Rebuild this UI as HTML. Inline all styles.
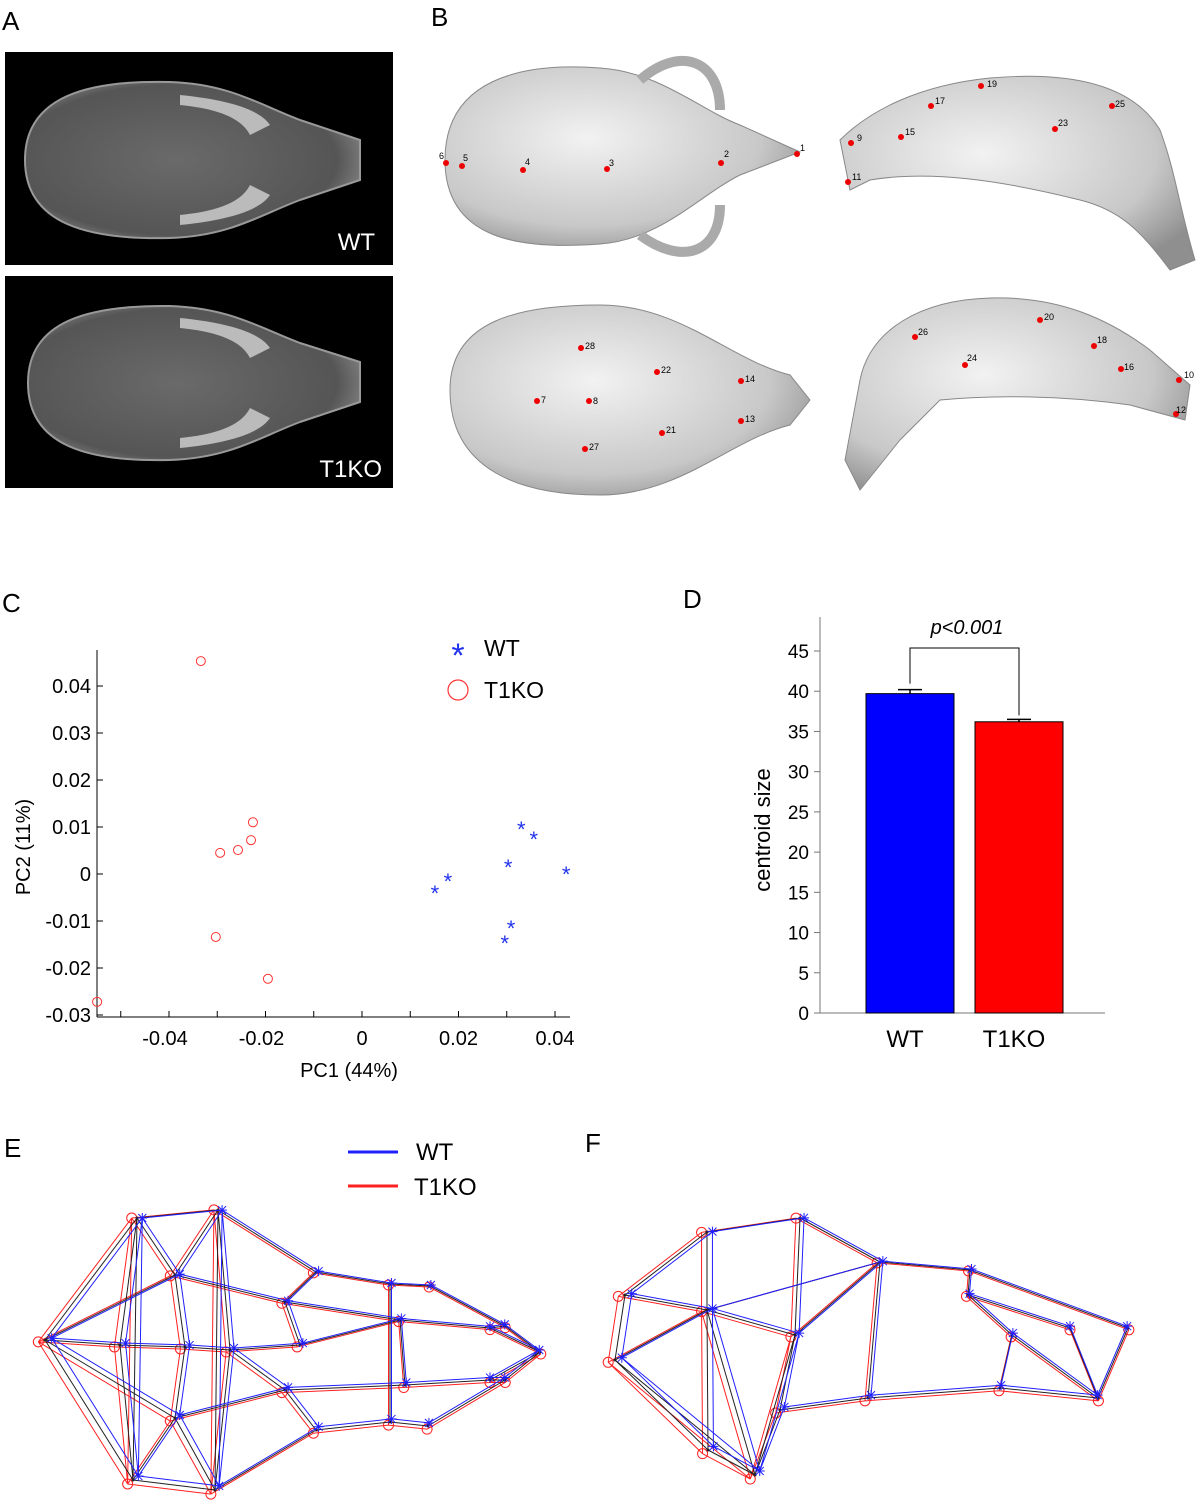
<!DOCTYPE html>
<html><head><meta charset="utf-8">
<style>
body{margin:0;background:#fff;}
svg{display:block;font-family:"Liberation Sans",Arial,sans-serif;}
</style></head>
<body>
<svg id="fig" width="1200" height="1506" viewBox="0 0 1200 1506" xmlns="http://www.w3.org/2000/svg">
<defs>
<radialGradient id="skullA" cx="45%" cy="50%" r="60%"><stop offset="0" stop-color="#6a6a6a"/><stop offset="0.8" stop-color="#555"/><stop offset="1" stop-color="#8a8a8a"/></radialGradient>
<radialGradient id="skullB" cx="40%" cy="40%" r="70%"><stop offset="0" stop-color="#f2f2f2"/><stop offset="0.7" stop-color="#c8c8c8"/><stop offset="1" stop-color="#8f8f8f"/></radialGradient>
</defs>
<text x="2" y="30" font-size="26">A</text>
<text x="431" y="26" font-size="26">B</text>
<text x="2" y="612" font-size="26">C</text>
<text x="683" y="608" font-size="26">D</text>
<text x="4" y="1157" font-size="26">E</text>
<text x="585" y="1152" font-size="26">F</text>

<g>
<rect x="5" y="52" width="388" height="213" fill="#000"/>
<path d="M25,160 C25,95 90,80 170,82 C230,84 260,105 300,120 L360,140 L360,180 L300,200 C260,215 230,236 170,238 C90,240 25,225 25,160Z" fill="url(#skullA)" stroke="#999" stroke-width="2"/>
<path d="M180,95 C230,100 260,110 270,125 L250,135 C240,115 210,108 180,105Z M180,225 C230,220 260,210 270,195 L250,185 C240,205 210,212 180,215Z" fill="#bbb"/>
<text x="375" y="250" font-size="24" fill="#fff" text-anchor="end">WT</text>
</g>
<g>
<rect x="5" y="276" width="388" height="212" fill="#000"/>
<path d="M28,383 C28,320 90,305 170,306 C230,308 260,328 300,343 L360,362 L360,402 L300,422 C260,437 230,458 170,460 C90,462 28,447 28,383Z" fill="url(#skullA)" stroke="#999" stroke-width="2"/>
<path d="M180,318 C230,323 260,333 270,348 L250,358 C240,338 210,331 180,328Z M180,448 C230,443 260,433 270,418 L250,408 C240,428 210,435 180,438Z" fill="#bbb"/>
<text x="382" y="477" font-size="24" fill="#fff" text-anchor="end">T1KO</text>
</g>

<g>
<path d="M445,160 C445,80 520,62 600,68 C660,72 700,110 740,125 L800,152 L740,175 C700,195 660,240 600,244 C520,250 445,240 445,160Z" fill="url(#skullB)" stroke="#888"/>
<path d="M640,80 C680,45 720,60 720,110 M640,235 C680,265 720,255 720,205" stroke="#aaa" stroke-width="10" fill="none"/>
</g>
<g>
<path d="M840,140 C870,110 920,85 990,78 C1060,72 1130,80 1160,130 C1175,170 1180,210 1195,260 L1170,270 C1140,230 1120,210 1080,200 C1000,180 930,170 870,180 L850,190Z" fill="url(#skullB)" stroke="#888"/>
</g>
<g>
<path d="M450,390 C450,320 520,305 600,305 C680,305 730,360 790,375 L810,400 L790,425 C730,440 680,495 600,495 C520,495 450,470 450,390Z" fill="url(#skullB)" stroke="#888"/>
</g>
<g>
<path d="M860,380 C870,330 920,300 990,298 C1060,296 1110,320 1150,350 L1190,385 L1185,420 L1130,405 C1060,395 990,395 940,400 L900,440 L860,490 L845,460Z" fill="url(#skullB)" stroke="#888"/>
</g>
<g fill="#e00" font-size="9">
<circle cx="797" cy="154" r="3"/><text x="800" y="151" fill="#000">1</text>
<circle cx="721" cy="163" r="3"/><text x="724" y="157" fill="#000">2</text>
<circle cx="607" cy="169" r="3"/><text x="609" y="166" fill="#000">3</text>
<circle cx="523" cy="170" r="3"/><text x="525" y="165" fill="#000">4</text>
<circle cx="462" cy="166" r="3"/><text x="463" y="161" fill="#000">5</text>
<circle cx="446" cy="163" r="3"/><text x="439" y="159" fill="#000">6</text>
<circle cx="537" cy="401" r="3"/><text x="541" y="403" fill="#000">7</text>
<circle cx="589" cy="401" r="3"/><text x="593" y="404" fill="#000">8</text>
<circle cx="851" cy="143" r="3"/><text x="857" y="141" fill="#000">9</text>
<circle cx="1179" cy="380" r="3"/><text x="1184" y="378" fill="#000">10</text>
<circle cx="848" cy="182" r="3"/><text x="852" y="180" fill="#000">11</text>
<circle cx="1176" cy="414" r="3"/><text x="1176" y="413" fill="#000">12</text>
<circle cx="741" cy="421" r="3"/><text x="745" y="422" fill="#000">13</text>
<circle cx="741" cy="381" r="3"/><text x="745" y="382" fill="#000">14</text>
<circle cx="901" cy="137" r="3"/><text x="905" y="135" fill="#000">15</text>
<circle cx="1121" cy="369" r="3"/><text x="1124" y="370" fill="#000">16</text>
<circle cx="931" cy="106" r="3"/><text x="935" y="104" fill="#000">17</text>
<circle cx="1094" cy="346" r="3"/><text x="1097" y="343" fill="#000">18</text>
<circle cx="981" cy="86" r="3"/><text x="987" y="87" fill="#000">19</text>
<circle cx="1040" cy="320" r="3"/><text x="1044" y="320" fill="#000">20</text>
<circle cx="662" cy="433" r="3"/><text x="666" y="433" fill="#000">21</text>
<circle cx="657" cy="372" r="3"/><text x="661" y="373" fill="#000">22</text>
<circle cx="1055" cy="129" r="3"/><text x="1058" y="126" fill="#000">23</text>
<circle cx="965" cy="365" r="3"/><text x="967" y="361" fill="#000">24</text>
<circle cx="1112" cy="106" r="3"/><text x="1115" y="107" fill="#000">25</text>
<circle cx="915" cy="337" r="3"/><text x="918" y="335" fill="#000">26</text>
<circle cx="585" cy="449" r="3"/><text x="589" y="450" fill="#000">27</text>
<circle cx="581" cy="348" r="3"/><text x="585" y="349" fill="#000">28</text>
</g>

<g id="panelC"></g>
<g id="panelD"></g>
<g id="panelE"></g>
<g id="panelF"></g>
</svg>
<script>
const NS="http://www.w3.org/2000/svg";
function mk(parent,tag,attrs,text){const e=document.createElementNS(NS,tag);for(const k in attrs)e.setAttribute(k,attrs[k]);if(text!==undefined)e.textContent=text;parent.appendChild(e);return e;}

const cXTicks=[-0.04,-0.02,0,0.02,0.04];
const cXTickLabels=["-0.04","-0.02","0","0.02","0.04"];
const cYTicks=[0.04,0.03,0.02,0.01,0,-0.01,-0.02,-0.03];
const cYTickLabels=["0.04","0.03","0.02","0.01","0","-0.01","-0.02","-0.03"];
const wtPC1=[0.033,0.0356,0.0423,0.0303,0.0178,0.0151,0.0309,0.0296];
const wtPC2=[0.010,0.0079,0.0004,0.0019,-0.0011,-0.0036,-0.0111,-0.0143];
const koPC1=[-0.0334,-0.0226,-0.023,-0.0257,-0.0294,-0.0303,-0.0195,-0.0549];
const koPC2=[0.0453,0.011,0.0072,0.0051,0.0045,-0.0134,-0.0223,-0.0272];

const dCategories=["WT","T1KO"];
const dValues=[39.7,36.2];
const dErrors=[0.5,0.3];
const dTicks=[0,5,10,15,20,25,30,35,40,45];
const dColors=["#0000ff","#ff0000"];

(function(){
const g=document.getElementById('panelC');
const xs=v=>362+v*4825, ys=v=>874-v*4700;
let a=mk(g,'line',{x1:97,y1:650,x2:97,y2:1017,stroke:'#000','stroke-width':1});

a=mk(g,'line',{x1:97,y1:1017,x2:570,y2:1017,stroke:'#000','stroke-width':1});

cXTicks.forEach((v,i)=>{mk(g,'line',{x1:xs(v),y1:1017,x2:xs(v),y2:1011,stroke:'#000'});
 const t=mk(g,'text',{x:xs(v)+(v<0?-4:0),y:1045,'font-size':20,'text-anchor':'middle'},cXTickLabels[i]);
 });
[-0.05,-0.03,-0.01,0.01,0.03].forEach(v=>mk(g,'line',{x1:xs(v),y1:1017,x2:xs(v),y2:1011,stroke:'#000'}));
cYTicks.forEach((v,i)=>{mk(g,'line',{x1:97,y1:ys(v),x2:103,y2:ys(v),stroke:'#000'});
 const t=mk(g,'text',{x:91,y:ys(v)+7,'font-size':20,'text-anchor':'end'},cYTickLabels[i]);
 });
let t=mk(g,'text',{x:349,y:1077,'font-size':20,'text-anchor':'middle'},'PC1 (44%)');

t=mk(g,'text',{x:0,y:0,'font-size':20,'text-anchor':'middle',transform:'translate(30,847) rotate(-90)'},'PC2 (11%)');

koPC1.forEach((v,i)=>{const c=mk(g,'circle',{cx:xs(v),cy:ys(koPC2[i]),r:4.5,fill:'none',stroke:'#f33','stroke-width':1});
 });
wtPC1.forEach((v,i)=>{const s=mk(g,'text',{x:xs(v),y:ys(wtPC2[i])+10,'font-size':22,fill:'#2233ee','text-anchor':'middle'},'*');
 });
let l=mk(g,'text',{x:458,y:667,'font-size':34,fill:'#2233ee','text-anchor':'middle'},'*');

l=mk(g,'text',{x:484,y:656,'font-size':23},'WT');

l=mk(g,'circle',{cx:458,cy:690,r:10,fill:'none',stroke:'#f33','stroke-width':1.2});

l=mk(g,'text',{x:484,y:698,'font-size':23},'T1KO');

})();

(function(){
const g=document.getElementById('panelD');
const ys=v=>1013-v*(362/45);
const bx=[866,975], bw=88;
let a=mk(g,'line',{x1:820,y1:617,x2:820,y2:1013,stroke:'#777'});

a=mk(g,'line',{x1:820,y1:1013,x2:1105,y2:1013,stroke:'#777'});

dTicks.forEach(v=>{mk(g,'line',{x1:820,y1:ys(v),x2:814,y2:ys(v),stroke:'#777'});
 const t=mk(g,'text',{x:809,y:ys(v)+7,'font-size':19,'text-anchor':'end'},String(v));
 });
dValues.forEach((v,i)=>{
 const r=mk(g,'rect',{x:bx[i],y:ys(v),width:bw,height:1013-ys(v),fill:dColors[i],stroke:'#000','stroke-width':1});
 
 const cx=bx[i]+bw/2;
 const e=mk(g,'path',{d:`M${cx},${ys(v+dErrors[i])}V${ys(v)} M${cx-12},${ys(v+dErrors[i])}H${cx+12}`,stroke:'#000','stroke-width':1.5,fill:'none'});
 
 const t=mk(g,'text',{x:cx-5,y:1047,'font-size':24,'text-anchor':'middle'},dCategories[i]);
 
});
const c0=bx[0]+bw/2,c1=bx[1]+bw/2;
let b=mk(g,'path',{d:`M${c0},${ys(dValues[0]+dErrors[0])-6}V648H${c1}V${ys(dValues[1]+dErrors[1])-4}`,stroke:'#000',fill:'none'});

let t=mk(g,'text',{x:967,y:634,'font-size':20,'font-style':'italic','text-anchor':'middle'},'p<0.001');

t=mk(g,'text',{x:0,y:0,'font-size':22,'text-anchor':'middle',transform:'translate(770,830) rotate(-90)'},'centroid size');

})();

const ePts=[[45,1340],[137,1218],[218,1210],[316,1272],[390,1284],[430,1286],[505,1326],[540,1352],[505,1380],[428,1426],[390,1422],[316,1430],[215,1490],[133,1480],[175,1275],[285,1302],[120,1345],[185,1347],[230,1350],[300,1345],[400,1320],[405,1385],[285,1390],[175,1418],[490,1328],[490,1380]];
const eEdges=[[0,1],[1,2],[2,3],[3,4],[4,5],[5,6],[6,7],[7,8],[8,9],[9,10],[10,11],[11,12],[12,13],[13,0],[0,16],[16,17],[17,18],[18,19],[19,20],[20,24],[24,7],[7,25],[25,21],[21,22],[22,18],[1,16],[1,14],[14,2],[2,18],[13,16],[13,23],[23,12],[12,18],[14,15],[15,19],[3,15],[15,20],[11,22],[22,23],[14,17],[17,23],[4,10],[20,21],[6,24],[8,25],[0,14],[0,23],[1,13],[2,12]];
const fPts=[[625,1295],[707,1232],[800,1218],[880,1262],[970,1270],[1070,1328],[1128,1328],[1098,1398],[1000,1388],[868,1398],[755,1475],[708,1450],[615,1360],[707,1310],[795,1335],[968,1295],[1012,1335],[780,1410]];
const fEdges=[[0,1],[1,2],[2,3],[3,4],[4,6],[6,7],[7,5],[5,15],[15,4],[15,16],[16,7],[7,8],[8,9],[9,17],[17,10],[10,11],[11,12],[12,0],[0,13],[13,12],[13,14],[14,3],[3,13],[13,10],[13,11],[14,10],[12,10],[9,3],[14,2],[13,1],[8,16],[17,14]];
function drawWire(gid,pts,edges,cx,cy){
 const g=document.getElementById(gid);
 const variants=[{c:'#ff2020',s:1.015,dx:-3,dy:2,m:'o'},{c:'#222',s:1.0,dx:0,dy:0,m:'.'},{c:'#2020ff',s:0.985,dx:3,dy:-2,m:'*'}];
 variants.forEach(vr=>{
  const P=pts.map(p=>[cx+(p[0]-cx)*vr.s+vr.dx,cy+(p[1]-cy)*vr.s+vr.dy]);
  let d='';edges.forEach(e=>{d+=`M${P[e[0]][0]},${P[e[0]][1]}L${P[e[1]][0]},${P[e[1]][1]}`;});
  const p=mk(g,'path',{d:d,stroke:vr.c,'stroke-width':1,fill:'none'});
  
  P.forEach(q=>{
   if(vr.m==='o'){const c=mk(g,'circle',{cx:q[0],cy:q[1],r:5,fill:'none',stroke:vr.c});}
   else if(vr.m==='*'){const s=mk(g,'path',{d:`M${q[0]-5},${q[1]}h10M${q[0]},${q[1]-5}v10M${q[0]-4},${q[1]-4}l8,8M${q[0]-4},${q[1]+4}l8,-8`,stroke:vr.c});}
   else {const c=mk(g,'circle',{cx:q[0],cy:q[1],r:1.5,fill:vr.c});}
  });
 });
}
drawWire('panelE',ePts,eEdges,290,1350);
drawWire('panelF',fPts,fEdges,870,1340);
(function(){
const g=document.getElementById('panelE');
let l=mk(g,'line',{x1:348,y1:1152,x2:398,y2:1152,stroke:'#2020ff','stroke-width':3});

l=mk(g,'text',{x:416,y:1160,'font-size':24},'WT');

l=mk(g,'line',{x1:348,y1:1186,x2:398,y2:1186,stroke:'#ff2020','stroke-width':3});

l=mk(g,'text',{x:414,y:1195,'font-size':24},'T1KO');

})();
</script>
</body></html>
